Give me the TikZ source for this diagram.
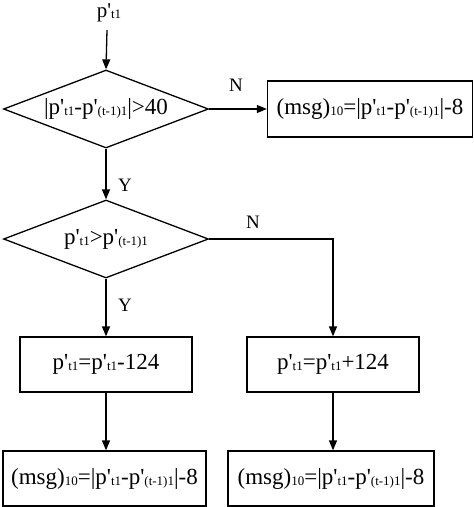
\documentclass[tikz,border=0pt]{standalone}
\usepackage{fontspec}
\setmainfont{Liberation Serif}
\usetikzlibrary{shapes.geometric,arrows.meta}
\newcommand\pr{p\textquotesingle}
\newcommand\sbs[2][13]{\raisebox{-1pt}{\fontsize{#1}{#1}\selectfont #2}}
\begin{document}
\begin{tikzpicture}[x=1pt,y=-1pt, line width=1.3pt,
  box/.style={draw, rectangle, inner sep=0pt, font=\fontsize{23}{26}\selectfont},
  dec/.style={draw, diamond, aspect=2.63, minimum width=205pt, minimum height=78pt, inner sep=0pt, font=\fontsize{23}{26}\selectfont},
  lbl/.style={font=\fontsize{19}{22}\selectfont},
  arr/.style={-{Triangle[length=10pt,width=8pt]}}]
\useasboundingbox (0,0) rectangle (474,507);
\node[inner sep=0pt, font=\fontsize{21}{23}\selectfont] (s) at (109,13) {\pr\sbs[13]{t1}};
\coordinate (s0) at (107,30);
\node[dec] (d1) at (106,109) {|\pr\sbs{t1}-\pr\sbs{(t-1)1}|>40};
\node[box, minimum width=205pt, minimum height=56pt] (b1) at (370,109) {(msg)\sbs{10}=|\pr\sbs{t1}-\pr\sbs{(t-1)1}|-8};
\node[dec] (d2) at (106,239) {\pr\sbs{t1}>\pr\sbs{(t-1)1}};
\node[box, minimum width=172pt, minimum height=55pt] (b2) at (106,364.5) {\pr\sbs{t1}=\pr\sbs{t1}-124};
\node[box, minimum width=172pt, minimum height=55pt] (b3) at (333,364.5) {\pr\sbs{t1}=\pr\sbs{t1}+124};
\node[box, minimum width=203pt, minimum height=55pt] (b4) at (104.5,478.5) {(msg)\sbs{10}=|\pr\sbs{t1}-\pr\sbs{(t-1)1}|-8};
\node[box, minimum width=206pt, minimum height=55pt] (b5) at (331,478.5) {(msg)\sbs{10}=|\pr\sbs{t1}-\pr\sbs{(t-1)1}|-8};
\node[lbl] (n1) at (236,85) {N};
\node[lbl] (y1) at (125,185) {Y};
\node[lbl] (n2) at (253,222) {N};
\node[lbl] (y2) at (125,305) {Y};
\draw[arr] (s0) -- (d1.north);
\draw[arr] (d1.east) -- (b1.west);
\draw[arr] (d1.south) -- (d2.north);
\draw[arr] (d2.south) -- (b2.north);
\draw[arr] (d2.east) -| (b3.north);
\draw[arr] (b2.south) -- (b2.south |- b4.north);
\draw[arr] (b3.south) -- (b3.south |- b5.north);
\end{tikzpicture}
\end{document}
